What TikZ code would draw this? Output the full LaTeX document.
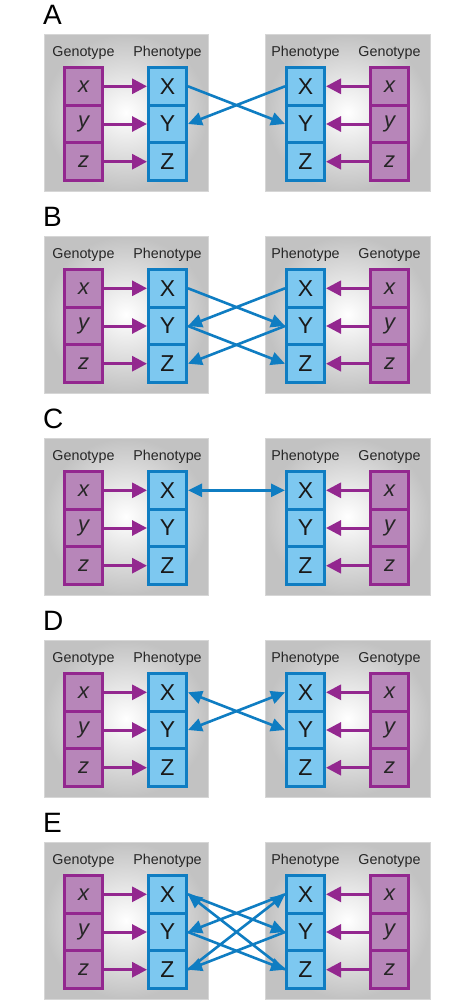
\documentclass[tikz,border=0pt]{standalone}
\usepackage{fontspec}
\setmainfont{Liberation Sans}
\usetikzlibrary{arrows.meta}
\definecolor{genoline}{HTML}{93278F}
\definecolor{genofill}{HTML}{B786B9}
\definecolor{phenoline}{HTML}{0F7DC2}
\definecolor{phenofill}{HTML}{7DC8F0}
\tikzset{
  geno/.style={draw=genoline, fill=genofill, line width=3pt, minimum width=38pt, minimum height=37.7pt, inner sep=0pt, font=\fontsize{22}{22}\selectfont\itshape, text=black!85},
  pheno/.style={draw=phenoline, fill=phenofill, line width=3pt, minimum width=38pt, minimum height=37.7pt, inner sep=0pt, font=\fontsize{23}{23}\selectfont, text=black!90},
  colhead/.style={font=\fontsize{14.3}{15}\selectfont, text=black!85, inner sep=0pt},
  panelname/.style={font=\fontsize{28}{28}\selectfont, anchor=west, inner sep=0pt},
  greybox/.style={inner color=white, outer color=black!24, draw=black!16, line width=1pt},
  gp/.style={-{Triangle[length=15pt,width=15pt]}, line width=3pt, genoline},
  pp/.style={-{Triangle[length=14pt,width=13pt]}, line width=2.6pt, phenoline},
  ppboth/.style={{Triangle[length=14pt,width=13pt]}-{Triangle[length=14pt,width=13pt]}, line width=2.6pt, phenoline}
}
\begin{document}
\begin{tikzpicture}[x=1pt, y=-1pt]
\useasboundingbox (0,0) rectangle (474,1002);

\foreach \p/\k in {A/0,B/1,C/2,D/3,E/4} {
  \pgfmathsetmacro\T{34+202*\k}
  \node[panelname] (\p-name) at (43,\T-19) {\p};
  \shade[greybox] (44,\T) rectangle (208,\T+157);
  \shade[greybox] (265,\T) rectangle (430,\T+157);
  \node[colhead] (\p-hgL) at (83.5,\T+19) {Genotype};
  \node[colhead] (\p-hpL) at (167.5,\T+19) {Phenotype};
  \node[colhead] (\p-hpR) at (305.5,\T+19) {Phenotype};
  \node[colhead] (\p-hgR) at (389.5,\T+19) {Genotype};
  \foreach \r/\up [count=\i] in {x/X,y/Y,z/Z} {
    \pgfmathsetmacro\cy{\T+52.3+37.7*(\i-1)}
    \node[geno] (\p-gL\r) at (83.5,\cy) {\r};
    \node[pheno] (\p-pL\r) at (167.5,\cy) {\up};
    \node[pheno] (\p-pR\r) at (305.5,\cy) {\up};
    \node[geno] (\p-gR\r) at (389.5,\cy) {\r};
    \draw[gp] (\p-gL\r.east) -- (\p-pL\r.west);
    \draw[gp] (\p-gR\r.west) -- (\p-pR\r.east);
  }
}

% A
\draw[pp] (A-pLx.east) -- (A-pRy.west);
\draw[pp] (A-pRx.west) -- (A-pLy.east);
% B
\draw[pp] (B-pLx.east) -- (B-pRy.west);
\draw[pp] (B-pRx.west) -- (B-pLy.east);
\draw[pp] (B-pLy.east) -- (B-pRz.west);
\draw[pp] (B-pRy.west) -- (B-pLz.east);
% C
\draw[ppboth] (C-pLx.east) -- (C-pRx.west);
% D
\draw[ppboth] (D-pLx.east) -- (D-pRy.west);
\draw[ppboth] (D-pRx.west) -- (D-pLy.east);
% E
\draw[pp] (E-pLx.east) -- (E-pRy.west);
\draw[pp] (E-pLy.east) -- (E-pRz.west);
\draw[pp] (E-pLz.east) -- (E-pRx.west);
\draw[pp] (E-pRx.west) -- (E-pLy.east);
\draw[pp] (E-pRy.west) -- (E-pLz.east);
\draw[pp] (E-pRz.west) -- (E-pLx.east);
\end{tikzpicture}
\end{document}
